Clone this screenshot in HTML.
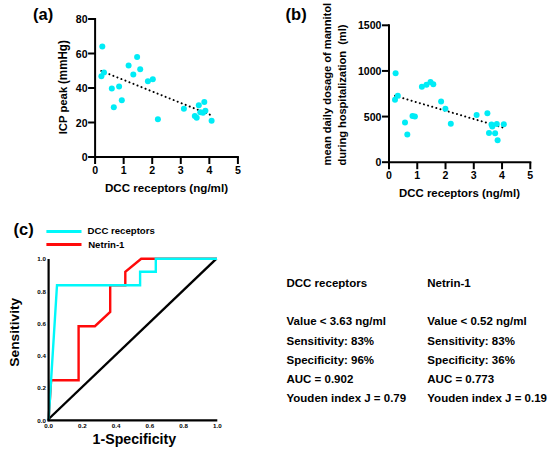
<!DOCTYPE html>
<html><head><meta charset="utf-8"><style>
html,body{margin:0;padding:0;background:#fff;width:550px;height:451px;overflow:hidden}
svg{display:block}
</style></head><body>
<svg width="550" height="451" viewBox="0 0 550 451" font-family="&quot;Liberation Sans&quot;, sans-serif" font-weight="bold" fill="#000"><line x1="95.1" y1="18.0" x2="95.1" y2="158.0" stroke="#000" stroke-width="2" />
<line x1="94.1" y1="157.0" x2="238.9" y2="157.0" stroke="#000" stroke-width="2" />
<line x1="88.1" y1="157.0" x2="95.1" y2="157.0" stroke="#000" stroke-width="2" />
<text transform="translate(87.6,161.0) scale(1.06,1)" font-size="10" text-anchor="end" >0</text>
<line x1="88.1" y1="122.5" x2="95.1" y2="122.5" stroke="#000" stroke-width="2" />
<text transform="translate(87.6,126.5) scale(1.06,1)" font-size="10" text-anchor="end" >20</text>
<line x1="88.1" y1="88.0" x2="95.1" y2="88.0" stroke="#000" stroke-width="2" />
<text transform="translate(87.6,92.0) scale(1.06,1)" font-size="10" text-anchor="end" >40</text>
<line x1="88.1" y1="53.5" x2="95.1" y2="53.5" stroke="#000" stroke-width="2" />
<text transform="translate(87.6,57.5) scale(1.06,1)" font-size="10" text-anchor="end" >60</text>
<line x1="88.1" y1="19.0" x2="95.1" y2="19.0" stroke="#000" stroke-width="2" />
<text transform="translate(87.6,23.0) scale(1.06,1)" font-size="10" text-anchor="end" >80</text>
<line x1="95.1" y1="157.0" x2="95.1" y2="164.0" stroke="#000" stroke-width="2" />
<text transform="translate(95.1,174) scale(1.06,1)" font-size="10" text-anchor="middle" >0</text>
<line x1="123.66" y1="157.0" x2="123.66" y2="164.0" stroke="#000" stroke-width="2" />
<text transform="translate(123.66,174) scale(1.06,1)" font-size="10" text-anchor="middle" >1</text>
<line x1="152.22" y1="157.0" x2="152.22" y2="164.0" stroke="#000" stroke-width="2" />
<text transform="translate(152.22,174) scale(1.06,1)" font-size="10" text-anchor="middle" >2</text>
<line x1="180.78" y1="157.0" x2="180.78" y2="164.0" stroke="#000" stroke-width="2" />
<text transform="translate(180.78,174) scale(1.06,1)" font-size="10" text-anchor="middle" >3</text>
<line x1="209.34" y1="157.0" x2="209.34" y2="164.0" stroke="#000" stroke-width="2" />
<text transform="translate(209.34,174) scale(1.06,1)" font-size="10" text-anchor="middle" >4</text>
<line x1="237.9" y1="157.0" x2="237.9" y2="164.0" stroke="#000" stroke-width="2" />
<text transform="translate(237.9,174) scale(1.06,1)" font-size="10" text-anchor="middle" >5</text>
<text x="166.5" y="192" font-size="11.6" text-anchor="middle" >DCC receptors (ng/ml)</text>
<g transform="translate(66.7,134.3) rotate(-90) scale(1,1.04)"><text x="0" y="0" font-size="11.3">ICP peak</text><text x="50.3" y="0" font-size="11.6">(mmHg)</text></g>
<text x="33" y="19.5" font-size="16.5" text-anchor="start" >(a)</text>
<line x1="100.4" y1="70.6" x2="210.5" y2="114.9" stroke="#000" stroke-width="2.0" stroke-dasharray="0.1 4.23" stroke-dashoffset="-0.95" stroke-linecap="round"/>
<circle cx="102.3" cy="46.6" r="3" fill="#00ecf6"/>
<circle cx="104.0" cy="72.4" r="3" fill="#00ecf6"/>
<circle cx="101.4" cy="76.2" r="3" fill="#00ecf6"/>
<circle cx="111.8" cy="88.4" r="3" fill="#00ecf6"/>
<circle cx="119.1" cy="86.4" r="3" fill="#00ecf6"/>
<circle cx="121.8" cy="100.3" r="3" fill="#00ecf6"/>
<circle cx="113.8" cy="107.2" r="3" fill="#00ecf6"/>
<circle cx="128.6" cy="65.5" r="3" fill="#00ecf6"/>
<circle cx="137.1" cy="57.1" r="3" fill="#00ecf6"/>
<circle cx="140.2" cy="69.3" r="3" fill="#00ecf6"/>
<circle cx="133.3" cy="74.4" r="3" fill="#00ecf6"/>
<circle cx="147.9" cy="81.3" r="3" fill="#00ecf6"/>
<circle cx="152.8" cy="79.3" r="3" fill="#00ecf6"/>
<circle cx="157.9" cy="119.2" r="3" fill="#00ecf6"/>
<circle cx="183.9" cy="108.7" r="3" fill="#00ecf6"/>
<circle cx="198.8" cy="105.2" r="3" fill="#00ecf6"/>
<circle cx="204.3" cy="101.9" r="3" fill="#00ecf6"/>
<circle cx="194.8" cy="115.9" r="3" fill="#00ecf6"/>
<circle cx="196.7" cy="117.8" r="3" fill="#00ecf6"/>
<circle cx="200.3" cy="112.3" r="3" fill="#00ecf6"/>
<circle cx="203.0" cy="112.8" r="3" fill="#00ecf6"/>
<circle cx="205.4" cy="110.7" r="3" fill="#00ecf6"/>
<circle cx="211.6" cy="120.8" r="3" fill="#00ecf6"/>
<line x1="389.0" y1="24.3" x2="389.0" y2="163.2" stroke="#000" stroke-width="2" />
<line x1="388.0" y1="162.2" x2="531.3" y2="162.2" stroke="#000" stroke-width="2" />
<line x1="382.0" y1="162.2" x2="389.0" y2="162.2" stroke="#000" stroke-width="2" />
<text transform="translate(381.5,166.2) scale(1.06,1)" font-size="10" text-anchor="end" >0</text>
<line x1="382.0" y1="116.56666666666666" x2="389.0" y2="116.56666666666666" stroke="#000" stroke-width="2" />
<text transform="translate(381.5,120.56666666666666) scale(1.06,1)" font-size="10" text-anchor="end" >500</text>
<line x1="382.0" y1="70.93333333333334" x2="389.0" y2="70.93333333333334" stroke="#000" stroke-width="2" />
<text transform="translate(381.5,74.93333333333334) scale(1.06,1)" font-size="10" text-anchor="end" >1000</text>
<line x1="382.0" y1="25.30000000000001" x2="389.0" y2="25.30000000000001" stroke="#000" stroke-width="2" />
<text transform="translate(381.5,29.30000000000001) scale(1.06,1)" font-size="10" text-anchor="end" >1500</text>
<line x1="389.0" y1="162.2" x2="389.0" y2="169.2" stroke="#000" stroke-width="2" />
<text transform="translate(389.0,178.8) scale(1.06,1)" font-size="10" text-anchor="middle" >0</text>
<line x1="417.26" y1="162.2" x2="417.26" y2="169.2" stroke="#000" stroke-width="2" />
<text transform="translate(417.26,178.8) scale(1.06,1)" font-size="10" text-anchor="middle" >1</text>
<line x1="445.52" y1="162.2" x2="445.52" y2="169.2" stroke="#000" stroke-width="2" />
<text transform="translate(445.52,178.8) scale(1.06,1)" font-size="10" text-anchor="middle" >2</text>
<line x1="473.78" y1="162.2" x2="473.78" y2="169.2" stroke="#000" stroke-width="2" />
<text transform="translate(473.78,178.8) scale(1.06,1)" font-size="10" text-anchor="middle" >3</text>
<line x1="502.03999999999996" y1="162.2" x2="502.03999999999996" y2="169.2" stroke="#000" stroke-width="2" />
<text transform="translate(502.03999999999996,178.8) scale(1.06,1)" font-size="10" text-anchor="middle" >4</text>
<line x1="530.3" y1="162.2" x2="530.3" y2="169.2" stroke="#000" stroke-width="2" />
<text transform="translate(530.3,178.8) scale(1.06,1)" font-size="10" text-anchor="middle" >5</text>
<text x="459.5" y="197" font-size="11.4" text-anchor="middle" >DCC receptors (ng/ml)</text>
<text transform="rotate(-90) translate(-165.4,331.2) scale(1,1.04)" font-size="11.2" letter-spacing="-0.03">mean daily dosage of mannitol</text>
<text transform="rotate(-90) translate(-165.4,345.6) scale(1,1.04)" font-size="11.2" letter-spacing="-0.075" xml:space="preserve">during hospitalization  (ml)</text>
<text x="285.6" y="19.5" font-size="16.5" text-anchor="start" >(b)</text>
<line x1="394.4" y1="95.7" x2="502.4" y2="127.4" stroke="#000" stroke-width="2.0" stroke-dasharray="0.1 4.2" stroke-dashoffset="-0.65" stroke-linecap="round"/>
<circle cx="395.6" cy="73.2" r="3" fill="#00ecf6"/>
<circle cx="397.8" cy="95.7" r="3" fill="#00ecf6"/>
<circle cx="395" cy="99.7" r="3" fill="#00ecf6"/>
<circle cx="405" cy="122.4" r="3" fill="#00ecf6"/>
<circle cx="412.5" cy="115.9" r="3" fill="#00ecf6"/>
<circle cx="414.9" cy="116.5" r="3" fill="#00ecf6"/>
<circle cx="407.3" cy="134.4" r="3" fill="#00ecf6"/>
<circle cx="421.9" cy="86.7" r="3" fill="#00ecf6"/>
<circle cx="426.5" cy="84.7" r="3" fill="#00ecf6"/>
<circle cx="430.5" cy="82.1" r="3" fill="#00ecf6"/>
<circle cx="433.3" cy="84.3" r="3" fill="#00ecf6"/>
<circle cx="441.1" cy="101.5" r="3" fill="#00ecf6"/>
<circle cx="445.4" cy="108.7" r="3" fill="#00ecf6"/>
<circle cx="450.8" cy="123.8" r="3" fill="#00ecf6"/>
<circle cx="476.6" cy="115" r="3" fill="#00ecf6"/>
<circle cx="487.4" cy="113.3" r="3" fill="#00ecf6"/>
<circle cx="491.5" cy="124.6" r="3" fill="#00ecf6"/>
<circle cx="492.3" cy="126.4" r="3" fill="#00ecf6"/>
<circle cx="496.8" cy="123.9" r="3" fill="#00ecf6"/>
<circle cx="503.8" cy="124.2" r="3" fill="#00ecf6"/>
<circle cx="489" cy="132.9" r="3" fill="#00ecf6"/>
<circle cx="495.1" cy="133.3" r="3" fill="#00ecf6"/>
<circle cx="497.6" cy="140.2" r="3" fill="#00ecf6"/>
<text x="13.6" y="234.5" font-size="16.5" text-anchor="start" >(c)</text>
<line x1="46.4" y1="231.4" x2="81.5" y2="231.4" stroke="#00f8fa" stroke-width="3" />
<line x1="46.4" y1="244.5" x2="81.5" y2="244.5" stroke="#ff0a0a" stroke-width="3" />
<text x="87.6" y="234.2" font-size="9.6" text-anchor="start" >DCC receptors</text>
<text x="88.2" y="247.6" font-size="9.6" text-anchor="start" >Netrin-1</text>
<line x1="47.6" y1="420.0" x2="216.5" y2="258.7" stroke="#000" stroke-width="2.4" />
<polyline points="48.6,420.3 51.1,380.2 78.6,380.2 78.6,326.2 94.9,326.2 110.2,311.9 110.2,285.3 125.3,285.3 125.3,271.8 141.2,258.7 154.7,258.7 217,258.7" fill="none" stroke="#ff0a0a" stroke-width="2.4" stroke-linejoin="miter"/>
<polyline points="48.6,420.3 57,285.3 140.1,285.3 140.1,271.8 155.8,271.8 155.8,258.7 217,258.7" fill="none" stroke="#00f8fa" stroke-width="2.4" stroke-linejoin="miter"/>
<line x1="48.6" y1="259.0" x2="48.6" y2="421.3" stroke="#000" stroke-width="2.2" />
<line x1="47.6" y1="420.3" x2="217.3" y2="420.3" stroke="#000" stroke-width="2.2" />
<text x="45.9" y="422.7" font-size="6.2" text-anchor="end" >0.0</text>
<text x="48.6" y="427.8" font-size="6.2" text-anchor="middle" >0.0</text>
<text x="45.9" y="390.44" font-size="6.2" text-anchor="end" >0.2</text>
<text x="82.34" y="427.8" font-size="6.2" text-anchor="middle" >0.2</text>
<text x="45.9" y="358.17999999999995" font-size="6.2" text-anchor="end" >0.4</text>
<text x="116.08000000000001" y="427.8" font-size="6.2" text-anchor="middle" >0.4</text>
<text x="45.9" y="325.91999999999996" font-size="6.2" text-anchor="end" >0.6</text>
<text x="149.82000000000002" y="427.8" font-size="6.2" text-anchor="middle" >0.6</text>
<text x="45.9" y="293.65999999999997" font-size="6.2" text-anchor="end" >0.8</text>
<text x="183.56" y="427.8" font-size="6.2" text-anchor="middle" >0.8</text>
<text x="45.9" y="261.4" font-size="6.2" text-anchor="end" >1.0</text>
<text x="217.3" y="427.8" font-size="6.2" text-anchor="middle" >1.0</text>
<text x="134.4" y="444.0" font-size="14.2" text-anchor="middle" >1-Specificity</text>
<text transform="translate(19.3,332.2) rotate(-90) scale(1.062,1)" font-size="13" text-anchor="middle">Sensitivity</text>
<text x="286.5" y="286.5" font-size="11.5" text-anchor="start" >DCC receptors</text>
<text x="427.3" y="286.5" font-size="11.5" text-anchor="start" >Netrin-1</text>
<text x="286.5" y="324.6" font-size="11.5" text-anchor="start" >Value &lt; 3.63 ng/ml</text>
<text x="427.3" y="324.6" font-size="11.5" text-anchor="start" >Value &lt; 0.52 ng/ml</text>
<text x="286.5" y="344.9" font-size="11.5" text-anchor="start" >Sensitivity: 83%</text>
<text x="427.3" y="344.9" font-size="11.5" text-anchor="start" >Sensitivity: 83%</text>
<text x="286.5" y="364.2" font-size="11.5" text-anchor="start" >Specificity: 96%</text>
<text x="427.3" y="364.2" font-size="11.5" text-anchor="start" >Specificity: 36%</text>
<text x="286.5" y="382.9" font-size="11.5" text-anchor="start" >AUC = 0.902</text>
<text x="427.3" y="382.9" font-size="11.5" text-anchor="start" >AUC = 0.773</text>
<text x="286.5" y="402.3" font-size="11.5" text-anchor="start" >Youden index J = 0.79</text>
<text x="427.3" y="402.3" font-size="11.5" text-anchor="start" >Youden index J = 0.19</text></svg>
</body></html>
